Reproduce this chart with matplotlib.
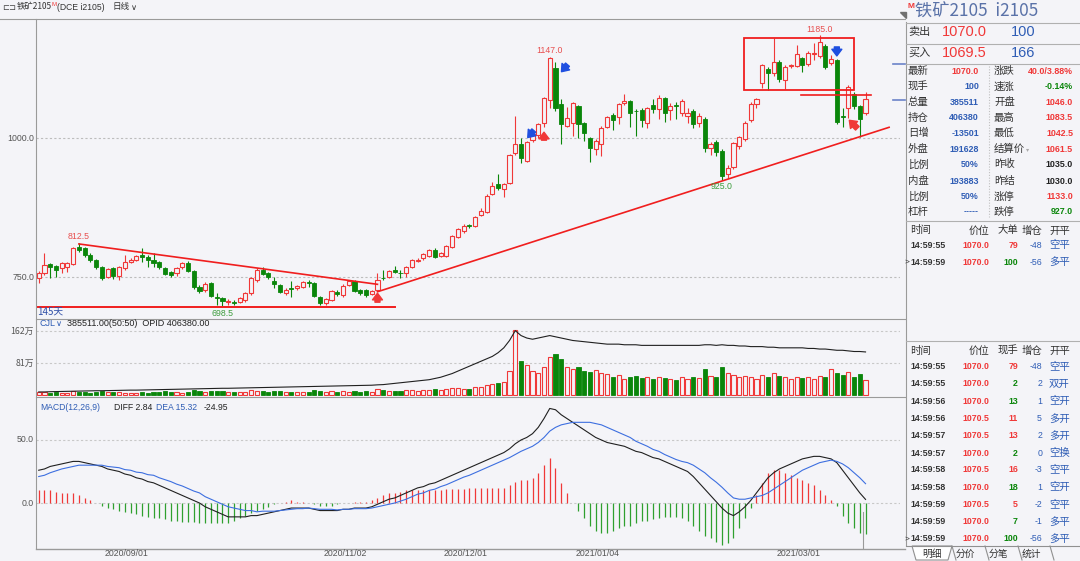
import matplotlib
matplotlib.use('Agg')
import matplotlib.pyplot as plt
from matplotlib.patches import Rectangle, Polygon
from matplotlib.lines import Line2D
from matplotlib.transforms import offset_copy

plt.rcParams['font.family'] = ['Noto Sans CJK SC', 'DejaVu Sans']

# ---------------- data ----------------
opens = [748, 757, 774, 771, 766, 768, 774, 805, 802, 791,
         781, 769, 751, 766, 752, 766, 778, 781, 790, 787,
         781, 778, 766, 760, 757, 768, 776, 762, 733, 727,
         739, 714, 713, 705, 706, 706, 709, 722, 745, 764,
         758, 744, 736, 721, 731, 730, 733, 741, 739, 715,
         703, 710, 724, 718, 737, 743, 727, 727, 720, 727,
         749, 750, 763, 758, 758, 769, 780, 784, 788, 799,
         788, 789, 805, 823, 834, 844, 842, 862, 868, 900,
         918, 908, 919, 973, 990, 959, 997, 1006, 1027, 1069,
         1127, 1062, 1023, 1027, 1058, 1027, 1000, 980, 989, 1021,
         1042, 1038, 1064, 1067, 1050, 1051, 1028, 1060, 1052, 1073,
         1051, 1060, 1046, 1040, 1050, 1027, 1035, 982, 994, 977,
         936, 949, 986, 998, 1033, 1062, 1099, 1124, 1117, 1138,
         1105, 1130, 1130, 1144, 1133, 1152, 1148, 1166, 1135, 1141,
         1040, 1054, 1080, 1058, 1046]
highs = [761, 793, 776, 773, 777, 778, 805, 812.5, 805, 793,
         783, 770, 767, 768, 771, 790, 785, 791, 802, 790,
         793, 780, 768, 762, 768, 778, 780, 764, 736, 741,
         741, 722, 715, 711, 709, 714, 724, 750, 767, 768,
         760, 750, 738, 730, 744, 737, 743, 746, 741, 717,
         713, 728, 727, 738, 746, 745, 729, 729, 728, 757,
         763, 764, 771, 764, 771, 783, 784, 794, 801, 802,
         795, 808, 826, 838, 845, 846, 861, 874, 900, 922,
         936, 920, 972, 1040, 1000, 996, 1010, 1028, 1075, 1147,
         1137, 1070, 1057, 1065, 1060, 1030, 1002, 998, 1022, 1040,
         1046, 1064, 1080, 1069, 1052, 1054, 1056, 1070, 1078, 1075,
         1063, 1066, 1070, 1055, 1052, 1046, 1038, 993, 997, 980,
         952, 993, 1005, 1031, 1066, 1073, 1134, 1128, 1180, 1141,
         1132, 1134, 1168, 1147, 1157, 1172, 1185, 1170, 1150, 1143,
         1054, 1095, 1083, 1060, 1083.5]
lows = [740, 755, 748, 750, 758, 760, 772, 795, 786, 778,
        765, 745, 748, 747, 745, 763, 776, 779, 778, 769,
        769, 765, 754, 750, 752, 765, 760, 729, 722, 724,
        714, 700, 698.5, 700, 700, 704, 706, 718, 742, 754,
        747, 730, 721, 718, 715, 727, 731, 733, 715, 701,
        701, 708, 717, 714, 734, 723, 718, 715, 718, 725,
        745, 748, 757, 748, 751, 767, 778, 782, 786, 784,
        786, 787, 803, 820, 830, 838, 840, 860, 866, 898,
        907, 895, 917, 970, 955, 957, 994, 1000, 1020, 1055,
        1050, 990, 1020, 1005, 1000, 995, 958, 970, 968, 1018,
        1015, 1025, 1060, 1020, 1005, 1020, 1018, 1045, 1035, 1030,
        1033, 1035, 1040, 1028, 1018, 1020, 976, 970, 968, 925,
        929, 945, 980, 995, 1030, 1055, 1090, 1087, 1112, 1102,
        1089, 1126, 1128, 1120, 1130, 1140, 1145, 1124, 1132, 1025,
        1021, 1036, 1052, 1003, 1042.5]
closes = [757, 772, 769, 764, 775, 775, 803, 800, 790, 782,
          769, 749, 765, 752, 769, 777, 782, 788, 787, 781,
          776, 768, 756, 754, 766, 776, 762, 732, 726, 738,
          716, 712, 707, 707, 704, 712, 722, 748, 764, 756,
          750, 738, 723, 728, 729, 735, 741, 739, 717, 703,
          711, 726, 720, 735, 743, 725, 721, 718, 725, 745,
          748, 762, 760, 757, 769, 781, 782, 792, 799, 786,
          793, 806, 824, 836, 842, 842, 859, 870, 896, 914,
          910, 917, 970, 990, 964, 993, 1007, 1025, 1073, 1144,
          1054, 1025, 1036, 1063, 1025, 1010, 983, 996, 1019, 1038,
          1033, 1062, 1067, 1045, 1049, 1033, 1054, 1052, 1073, 1046,
          1058, 1059, 1067, 1046, 1025, 1041, 983, 990, 976, 932,
          946, 991, 1003, 1028, 1062, 1071, 1132, 1117, 1138, 1106,
          1129, 1132, 1151, 1132, 1154, 1154, 1174, 1128, 1142, 1030,
          1039, 1092, 1058, 1034, 1070]

# volume and open interest, in 10k lots
volume = [7, 8, 6, 7, 6, 6, 9, 8, 7, 6,
          7, 9, 7, 8, 7, 6, 5, 6, 7, 6,
          7, 8, 9, 7, 7, 6, 8, 12, 9, 8,
          11, 10, 9, 8, 7, 7, 8, 12, 11, 9,
          8, 10, 9, 7, 8, 7, 7, 8, 12, 11,
          8, 10, 8, 9, 8, 9, 8, 9, 8, 14,
          12, 11, 10, 11, 12, 13, 11, 12, 13, 14,
          12, 16, 18, 17, 16, 15, 19, 21, 26, 28,
          30, 32, 60, 165, 85, 75, 60, 55, 70, 95,
          105, 90, 72, 66, 70, 62, 58, 64, 56, 52,
          45, 50, 40, 45, 48, 42, 45, 40, 45, 42,
          40, 38, 45, 40, 45, 42, 65, 48, 45, 70,
          55, 50, 45, 48, 45, 40, 50, 45, 55, 48,
          45, 40, 45, 42, 45, 40, 48, 45, 65, 55,
          50, 58, 45, 52, 38.55]
open_interest = [8.0, 8.0, 8.2, 8.3, 8.4, 8.5, 8.6, 8.7, 8.8, 8.9,
                 9.0, 9.0, 9.1, 9.2, 9.3, 9.4, 9.5, 9.5, 9.6, 9.7,
                 9.8, 9.9, 10.0, 10.1, 10.2, 10.3, 10.4, 10.5, 10.6, 10.7,
                 10.8, 10.9, 11.0, 11.0, 11.1, 11.2, 11.3, 11.4, 11.5, 11.6,
                 11.7, 11.8, 11.9, 12.0, 12.1, 12.2, 12.3, 12.4, 12.5, 12.6,
                 12.7, 12.8, 12.9, 13.0, 13.1, 13.2, 13.3, 13.4, 13.5, 13.8,
                 14.0, 14.5, 15.0, 15.5, 16.0, 16.5, 17.0, 17.5, 18.0, 19.0,
                 20.0, 21.5, 23.0, 25.0, 27.0, 29.0, 31.0, 33.0, 35.0, 37.0,
                 40.0, 44.0, 50.0, 58.0, 54.0, 52.0, 51.0, 52.0, 53.0, 54.0,
                 53.0, 52.0, 51.0, 50.0, 49.5, 49.0, 48.5, 48.0, 47.5, 47.0,
                 47.0, 47.0, 46.5, 46.5, 46.5, 46.0, 46.0, 46.0, 46.0, 46.0,
                 46.0, 46.0, 46.0, 46.0, 46.0, 46.0, 46.5, 46.5, 46.0, 46.5,
                 46.0, 46.0, 45.5, 45.5, 45.0, 45.0, 45.0, 44.5, 44.5, 44.0,
                 44.0, 44.0, 44.0, 44.0, 43.5, 43.5, 43.0, 43.0, 42.5, 42.0,
                 42.0, 41.5, 41.0, 41.0, 40.638]

# MACD lines
diff = [26, 27, 29, 30, 31, 32, 33,
        33, 32, 31, 30, 29, 27, 26, 25, 23, 22,
        20, 19, 17, 16, 14, 12, 10, 8, 6, 4,
        2, 0, -3, -5, -7, -9, -11,
        -11, -11, -11, -10, -10, -9,
        -8, -7, -6, -5, -4,
        -4, -4, -4, -5, -6, -6, -6,
        -6, -5, -5, -4, -4, -4, -3,
        -1, 1, 3, 4, 6,
        8, 10, 12, 13, 15, 16, 18, 20, 22,
        24, 26, 28, 30, 32, 34, 36, 38,
        40, 43, 47, 50, 52, 55, 60, 67, 75,
        74, 70, 67, 64, 61, 58, 55, 52, 50,
        48, 47, 46, 45, 43, 41, 40,
        38, 36, 35, 33, 31, 29, 27,
        25, 21, 16, 11, 6, 1, -4, -8, -10,
        -7, -3, 2, 8, 14, 20,
        24, 27, 29, 31, 33, 35, 36, 37, 37,
        36, 35, 32, 26, 20, 14, 8, 2.84]
dea = [21, 22, 24, 25.5, 27, 28, 29,
       30, 30, 30, 30, 30, 29, 28.5, 28, 26.5, 26,
       24.5, 24, 22.5, 22, 20, 18.5, 17, 15, 13.5, 11.5,
       9.5, 8, 5, 3, 1, -1, -3,
       -4, -5, -6, -6, -7, -6.5,
       -6.5, -6.5, -6, -5.5, -5,
       -4.5, -4.5, -4, -4.5, -5, -5, -5,
       -5.5, -5, -5, -4.5, -4.5, -4.5, -4,
       -3, -2, -1, 0, 1.5,
       3, 5, 7, 8, 10, 11, 13, 14.5, 16.5,
       18.5, 20.5, 22, 24, 26, 28, 30, 32,
       34, 36, 38.5, 41, 43, 45, 48, 52, 57,
       60, 62, 63, 64, 64, 64, 64, 63, 62,
       60, 58, 56, 54, 52, 49, 47,
       45, 42.5, 41, 38.5, 36.5, 34.5, 33,
       32, 30, 27, 24, 20, 16.5, 12.5, 8, 4,
       3, 3, 4, 5, 6, 8,
       11, 14, 17, 20, 23, 26, 28, 30, 32,
       33, 34, 33, 31, 28, 24, 20, 15.32]

date_labels = ['2020/09/01', '2020/11/02', '2020/12/01', '2021/01/04', '2021/03/01']
date_index = [15, 53, 74, 97, 132]

# ---------------- figure ----------------
W, H = 1080, 561
fig = plt.figure(figsize=(W / 100, H / 100), dpi=100)
BG = '#F4F4F8'
fig.patch.set_facecolor(BG)
RED = '#F03838'
GREEN = '#0A860A'
LGREEN = '#3C9C3C'
BLUE = '#2F5DB5'
SLATE = '#5A72A8'
AXC = '#9A9A9A'
TXT = '#555555'
NUMF = 'Liberation Sans'


def box(l, t, r, b):
    return [l / W, 1 - b / H, (r - l) / W, (b - t) / H]


def ftext(x, y, s, **kw):
    kw.setdefault('va', 'center')
    return fig.text(x / W, 1 - y / H, s, **kw)


def fline(x0, y0, x1, y1, **kw):
    fig.add_artist(Line2D([x0 / W, x1 / W], [1 - y0 / H, 1 - y1 / H],
                          transform=fig.transFigure, **kw))


def clean(a):
    a.set_facecolor('none')
    for s in a.spines.values():
        s.set_visible(False)
    a.set_xticks([])
    a.set_yticks([])


XL = (-0.47, 150.0)
n = len(opens)
idx = list(range(n))

# ---- price panel ----
ax = fig.add_axes(box(36, 19, 900, 318))
clean(ax)
ax.set_xlim(*XL)
ax.set_ylim(676.8, 1214.6)
for lev in (1000, 750):
    ax.axhline(lev, color='#BDBDBD', lw=0.8, ls=(0, (2, 2)), zorder=0)

for i in idx:
    o, h, l, c = opens[i], highs[i], lows[i], closes[i]
    if c >= o:
        ax.vlines(i, max(o, c), h, color=RED, lw=0.8, zorder=2)
        ax.vlines(i, l, min(o, c), color=RED, lw=0.8, zorder=2)
        ax.add_patch(Rectangle((i - 0.36, o), 0.72, max(c - o, 0.4),
                               facecolor=BG, edgecolor=RED, lw=0.8, zorder=3))
    else:
        ax.vlines(i, l, h, color=GREEN, lw=0.8, zorder=2)
        ax.add_patch(Rectangle((i - 0.36, c), 0.72, max(o - c, 0.4),
                               facecolor=GREEN, edgecolor=GREEN, lw=0.6, zorder=3))

# trend lines
TL = '#F01E1E'
ax.plot([7, 59], [810, 737.4], color=TL, lw=1.2, zorder=4)
ax.plot([XL[0], 62], [697.2, 697.2], color=TL, lw=1.4, zorder=4)
ax.plot([59, 148.1], [724, 1019.8], color=TL, lw=1.2, zorder=4)
ax.add_patch(Rectangle((122.9, 1086.9), 142.0 - 122.9, 1179.9 - 1086.9,
                       facecolor='none', edgecolor=TL, lw=1.3, zorder=4))
ax.plot([132.7, 145.0], [1077.9, 1077.9], color=TL, lw=1.2, zorder=4)


def arrow(i, p, hx, hy, tx, ty, color):
    head = offset_copy(ax.transData, fig=fig, x=hx, y=hy, units='dots')
    tail = offset_copy(ax.transData, fig=fig, x=tx, y=ty, units='dots')
    ax.annotate('', xy=(i, p), xycoords=head, xytext=(i, p), textcoords=tail,
                arrowprops=dict(arrowstyle='simple,head_width=0.9,head_length=0.6,tail_width=0.45',
                                color=color, shrinkA=0, shrinkB=0, mutation_scale=8), zorder=6)


arrow(59, lows[59], 0, -2, 0, -11, RED)
arrow(88, lows[88], 0, -5, 0, -13, RED)
arrow(85, highs[85], 1, 3, 7, 10, '#1F4FE0')
arrow(90, opens[90], 6, -4, 12, 3, '#1F4FE0')
arrow(139, opens[139], 0, 4, 0, 13, '#1F4FE0')
arrow(141, lows[141], 1, -2, 9, -10, RED)


def label(i, p, s, color, dy, va):
    tr = offset_copy(ax.transData, fig=fig, x=0, y=dy, units='dots')
    ax.text(i, p, s, transform=tr, ha='center', va=va, color=color,
            fontsize=6.3, family=NUMF, zorder=7)


label(7, highs[7], '812.5', '#E85050', 2, 'bottom')
label(32, lows[32], '698.5', LGREEN, -3, 'top')
label(89, highs[89], '1147.0', '#E85050', 2, 'bottom')
label(119, lows[119], '925.0', LGREEN, -2, 'top')
label(136, highs[136], '1185.0', '#E85050', 1.5, 'bottom')
ftext(37, 312, '145天', color='#3050A8', fontsize=7, ha='left')

for lev, s in ((1000, '1000.0'), (750, '750.0')):
    yp = 138.3 - (lev - 1000) / 1.7986
    ftext(34, yp, s, ha='right', color=TXT, fontsize=6.3, family=NUMF)

# ---- volume panel ----
axv = fig.add_axes(box(36, 320, 900, 396))
clean(axv)
axv.set_xlim(*XL)
axv.set_ylim(-2.53, 189.8)
for lev in (162, 81):
    axv.axhline(lev, color='#C8C8C8', lw=0.8, ls=(0, (2, 2)), zorder=0)
for i in idx:
    if closes[i] >= opens[i]:
        axv.add_patch(Rectangle((i - 0.36, 0), 0.72, volume[i], facecolor=BG,
                                edgecolor=RED, lw=0.8, zorder=2))
    else:
        axv.add_patch(Rectangle((i - 0.36, 0), 0.72, volume[i], facecolor=GREEN,
                                edgecolor=GREEN, lw=0.6, zorder=2))
axo = axv.twinx()
clean(axo)
axo.set_ylim(4.7, 66.7)
axo.plot(idx, open_interest, color='#202020', lw=0.8, zorder=3)
ftext(34, 331, '162万', ha='right', color=TXT, fontsize=6.3)
ftext(34, 363, '81万', ha='right', color=TXT, fontsize=6.3)
ftext(40, 324, 'CJL', color=BLUE, fontsize=6.5, family=NUMF)
ftext(56, 324, '∨', color=BLUE, fontsize=6, family='DejaVu Sans')
ftext(67, 324, '385511.00(50:50)  OPID 406380.00', color='#222222', fontsize=6.5, family=NUMF)

# ---- MACD panel ----
axm = fig.add_axes(box(36, 398, 900, 548))
clean(axm)
axm.set_xlim(*XL)
axm.set_ylim(-35.7, 83.3)
for lev in (50, 0):
    axm.axhline(lev, color='#C8C8C8', lw=0.8, ls=(0, (2, 2)), zorder=0)
for i in idx:
    hv = 2 * (diff[i] - dea[i])
    axm.vlines(i, 0, hv, color=RED if hv >= 0 else '#2FA02F', lw=0.9, zorder=2)
axm.plot(idx, diff, color='#202020', lw=0.8, zorder=3)
axm.plot(idx, dea, color='#3D6FE0', lw=0.8, zorder=3)
ftext(34, 440, '50.0', ha='right', color=TXT, fontsize=6.3, family=NUMF)
ftext(34, 503, '0.0', ha='right', color=TXT, fontsize=6.3, family=NUMF)
ftext(40, 407, 'MACD(12,26,9)', color=BLUE, fontsize=6.2, family=NUMF)
ftext(114, 407, 'DIFF 2.84', color='#222222', fontsize=6.2, family=NUMF)
ftext(156, 407, 'DEA 15.32', color=BLUE, fontsize=6.2, family=NUMF)
ftext(204, 407, '-24.95', color='#222222', fontsize=6.2, family=NUMF)

for di, s in zip(date_index, date_labels):
    xp = 36 + (di - XL[0]) / (XL[1] - XL[0]) * (900 - 36)
    ftext(xp + 2, 553, s, ha='center', color=TXT, fontsize=6.3, family=NUMF)

# frame lines
fline(0, 18.5, 905, 18.5, color=AXC, lw=0.8)
fline(36, 19, 36, 548, color=AXC, lw=0.8)
fline(36, 318.5, 905, 318.5, color=AXC, lw=0.8)
fline(36, 396.5, 905, 396.5, color=AXC, lw=0.8)
fline(36, 548.5, 905, 548.5, color=AXC, lw=1.0)
fline(906, 22, 906, 545, color=AXC, lw=0.8)
fline(863, 512, 863, 548, color=AXC, lw=0.8)
fline(893, 64, 905, 64, color='#6A82C8', lw=1.2)
fline(893, 100, 905, 100, color='#6A82C8', lw=1.2)

# top header
ftext(2, 7, '⊏⊐', color='#444444', fontsize=6, family='DejaVu Sans')
ftext(17, 7, '铁矿2105', color='#333333', fontsize=6)
ftext(51, 4.5, 'M', color=RED, fontsize=4.3, family=NUMF)
ftext(57, 7, '(DCE i2105)', color='#333333', fontsize=6.2, family=NUMF)
ftext(113, 7, '日线', color='#333333', fontsize=6.2)
ftext(131, 7, '∨', color='#333333', fontsize=6, family='DejaVu Sans')

# ---------------- right panel ----------------
fig.add_artist(Polygon([[900 / W, 1 - 12 / H], [906 / W, 1 - 12 / H], [906 / W, 1 - 18 / H]],
                       closed=True, transform=fig.transFigure, color='#707070'))
ftext(907, 7, 'M', color=RED, fontsize=6, family=NUMF, weight='bold')
ftext(915, 11, '铁矿2105  i2105', color=SLATE, fontsize=12.4)
for yy in (22.5, 43.5, 63.5, 220.5, 340.5):
    fline(906, yy, 1080, yy, color='#B0B0B0', lw=0.8)
ftext(908, 32, '卖出', color='#333333', fontsize=8)
ftext(987, 32, '1070.0', color=RED, fontsize=10.5, family=NUMF, ha='right')
ftext(1035, 32, '100', color=BLUE, fontsize=10.5, family=NUMF, ha='right')
ftext(908, 53, '买入', color='#333333', fontsize=8)
ftext(987, 53, '1069.5', color=RED, fontsize=10.5, family=NUMF, ha='right')
ftext(1035, 53, '166', color=BLUE, fontsize=10.5, family=NUMF, ha='right')

left_lab = ['最新', '现手', '总量', '持仓', '日增', '外盘', '比例', '内盘', '比例', '杠杆']
left_val = ['1070.0', '100', '385511', '406380', '-13501', '191628', '50%', '193883', '50%', '-----']
left_col = [RED, BLUE, BLUE, BLUE, BLUE, BLUE, BLUE, BLUE, BLUE, BLUE]
right_lab = ['涨跌', '速涨', '开盘', '最高', '最低', '结算价', '昨收', '昨结', '涨停', '跌停']
right_val = ['40.0/3.88%', '-0.14%', '1046.0', '1083.5', '1042.5', '1061.5', '1035.0', '1030.0', '1133.0', '927.0']
right_col = [RED, GREEN, RED, RED, RED, RED, '#222222', '#222222', RED, GREEN]
rows_y = [71, 86.7, 102.3, 117.7, 133.3, 149, 164.3, 181, 196.7, 212]
for k, yy in enumerate(rows_y):
    ftext(908, yy, left_lab[k], color='#333333', fontsize=7.5)
    ftext(979, yy, left_val[k], color=left_col[k], fontsize=6.4, family=NUMF, weight='bold', ha='right')
    ftext(994, yy, right_lab[k], color='#333333', fontsize=7.5)
    ftext(1073, yy, right_val[k], color=right_col[k], fontsize=6.4, family=NUMF, weight='bold', ha='right')
ftext(1026, 149.5, '▾', color='#AAAAAA', fontsize=4.5, family='DejaVu Sans')
fline(989, 66, 989, 217, color='#C0C0C0', lw=0.8, ls=(0, (1, 1.5)))


def table_header(y, h):
    ftext(910, y, h[0], color='#333333', fontsize=7.5)
    ftext(989, y, h[1], color='#333333', fontsize=7.5, ha='right')
    ftext(1018, y, h[2], color='#333333', fontsize=7.5, ha='right')
    ftext(1042, y, h[3], color='#333333', fontsize=7.5, ha='right')
    ftext(1049, y, h[4], color='#333333', fontsize=7.5)


def table_row(y, t, p, q, qc, d, kind):
    ftext(910, y, t, color='#333333', fontsize=6.3, family=NUMF, weight='bold')
    ftext(989, y, p, color=RED, fontsize=6.3, family=NUMF, weight='bold', ha='right')
    ftext(1018, y, q, color=qc, fontsize=6.3, family=NUMF, weight='bold', ha='right')
    ftext(1042, y, d, color=BLUE, fontsize=6.3, family=NUMF, ha='right')
    ftext(1049, y, kind, color=BLUE, fontsize=7.5)


table_header(230.5, ['时间', '价位', '大单', '增仓', '开平'])
big_rows = [('14:59:55', '1070.0', '79', RED, '-48', '空平'),
            ('14:59:59', '1070.0', '100', GREEN, '-56', '多平')]
for k, r in enumerate(big_rows):
    table_row(245 + 17.3 * k, *r)
ftext(905, 262.3, '>', color='#333333', fontsize=6, family=NUMF)

table_header(351, ['时间', '价位', '现手', '增仓', '开平'])
tick_time = ['14:59:55', '14:59:55', '14:59:56', '14:59:56', '14:59:57', '14:59:57',
             '14:59:58', '14:59:58', '14:59:59', '14:59:59', '14:59:59']
tick_price = ['1070.0', '1070.0', '1070.0', '1070.5', '1070.5', '1070.0',
              '1070.5', '1070.0', '1070.5', '1070.0', '1070.0']
tick_qty = ['79', '2', '13', '11', '13', '2', '16', '18', '5', '7', '100']
tick_up = [True, False, False, True, True, False, True, False, True, False, False]
tick_oi = ['-48', '2', '1', '5', '2', '0', '-3', '1', '-2', '-1', '-56']
tick_kind = ['空平', '双开', '空开', '多开', '多开', '空换', '空平', '空开', '空平', '多平', '多平']
tick_y = [366.7, 384, 401.3, 418.7, 436, 453, 470, 487, 504.7, 522, 538.7]
for k in range(len(tick_time)):
    table_row(tick_y[k], tick_time[k], tick_price[k], tick_qty[k],
              RED if tick_up[k] else GREEN, tick_oi[k], tick_kind[k])
ftext(905, 538.7, '>', color='#333333', fontsize=6, family=NUMF)

# tabs
fline(906, 546, 1080, 546, color='#909090', lw=0.8)
fig.add_artist(Polygon([[912 / W, 1 - 546 / H], [916 / W, 1 - 560 / H], [948 / W, 1 - 560 / H], [952 / W, 1 - 546 / H]],
                       closed=True, transform=fig.transFigure, facecolor='white', edgecolor='#909090', lw=0.8))
for xx, s in ((932, '明细'), (965, '分价'), (998, '分笔'), (1031, '统计')):
    ftext(xx, 553.5, s, color='#333333', fontsize=7, ha='center')
for xx in (952, 985, 1018, 1050):
    fline(xx, 546, xx + 4, 560, color='#909090', lw=0.8)

fig.savefig('out.png', dpi=100, facecolor=BG)
